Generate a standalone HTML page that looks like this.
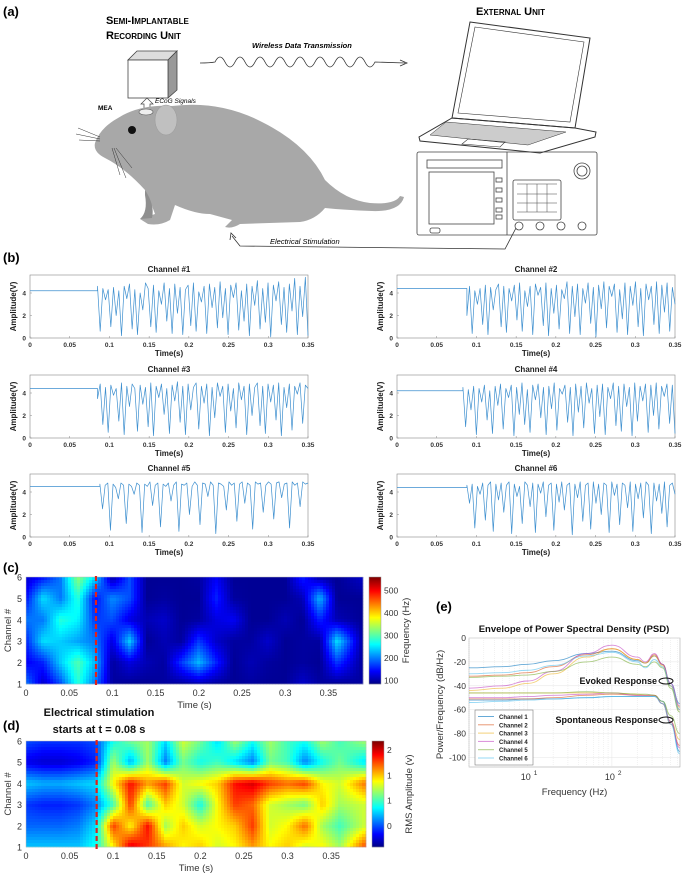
<!DOCTYPE html>
<html><head><meta charset="utf-8"><style>
body{margin:0;background:#fff}
svg{display:block;font-family:"Liberation Sans",sans-serif}
.b{font-weight:bold}
</style></head><body>
<svg id="fig" width="685" height="880" viewBox="0 0 685 880" xmlns="http://www.w3.org/2000/svg">
<g>
<text x="3" y="16" font-size="13" class="b">(a)</text>
<text x="106" y="24" font-size="11" class="b" style="font-variant:small-caps">Semi-Implantable</text>
<text x="106" y="39" font-size="11" class="b" style="font-variant:small-caps">Recording Unit</text>
<text x="476" y="15" font-size="11" class="b" style="font-variant:small-caps">External Unit</text>
<g stroke="#444" stroke-width="0.8">
<polygon points="128,60 168,60 177,51 137,51" fill="#ddd"/>
<polygon points="168,60 177,51 177,90 168,98" fill="#999"/>
<rect x="128" y="60" width="40" height="38" fill="#fff"/>
</g>
<path d="M200,63 Q210,63 215,62 q5,-10 10,0 q5,10 10,0 q5,-10 10,0 q5,10 10,0 q5,-10 10,0 q5,10 10,0 q5,-10 10,0 q5,10 10,0 q5,-10 10,0 q5,10 10,0 q5,-10 10,0 q5,10 10,0 q5,-10 10,0 q5,10 10,0 q5,-10 10,0 q5,10 10,0 L405,63" fill="none" stroke="#333" stroke-width="0.8"/>
<path d="M400,60 L407,63 L400,66" fill="none" stroke="#333" stroke-width="0.8"/>
<text x="252" y="48" font-size="7.5" font-style="italic" class="b">Wireless Data Transmission</text>
<path d="M144,111 L144,104 L141,104 L147,98 L153,104 L150,104 L150,111 Z" fill="#fff" stroke="#444" stroke-width="0.7"/>
<text x="155" y="103" font-size="6.5" font-style="italic">ECoG Signals</text>
<text x="98" y="110" font-size="6.5" class="b">MEA</text>
<g>
<path d="M95,143 Q100,128 118,118 Q140,104 172,106 Q220,100 262,122 Q308,145 325,180 Q345,200 370,203 Q395,205 400,196 L404,197 Q400,212 372,211 Q345,210 325,208 Q315,220 300,222 L240,224 Q232,229 225,227 L232,220 L210,214 Q195,214 175,205 L170,220 Q160,226 148,224 L140,219 L155,214 Q150,200 145,190 Q125,168 105,158 Q93,152 95,143 Z" fill="#a8a8a8"/>
<path d="M145,190 Q155,205 152,218 L140,219 Q148,212 145,195Z" fill="#8f8f8f"/>
<ellipse cx="166" cy="120" rx="11" ry="15" fill="#c0c0c0" stroke="#999" stroke-width="0.5"/>
<circle cx="132" cy="130" r="4" fill="#111"/>
<ellipse cx="146" cy="112" rx="7" ry="3" fill="#eee" stroke="#555" stroke-width="0.6"/>
<path d="M100,137 L78,128 M100,139 L76,134 M100,141 L79,140 M112,148 L120,175 M114,148 L126,178 M116,148 L132,168" stroke="#333" stroke-width="0.5" fill="none"/>
</g>
<g fill="none" stroke="#333" stroke-width="1">
<polygon points="470,22 590,38 575,128 452,118"/>
<polygon points="475,27 584,42 570,122 458,113" stroke-width="0.6"/>
<polygon points="452,118 575,128 596,132 595,137 540,153 420,141 419,137"/>
<polygon points="446,122 566,132 528,145 430,135" stroke-width="0.5" fill="#ccc"/>
<polygon points="468,139 505,142 500,147 462,144" stroke-width="0.6"/>
</g>
<g fill="none" stroke="#444" stroke-width="0.8">
<rect x="417" y="152" width="180" height="83" rx="2"/>
<line x1="507" y1="152" x2="507" y2="235"/>
<rect x="427" y="160" width="75" height="8"/>
<rect x="429" y="172" width="65" height="52"/>
<rect x="496" y="178" width="6" height="4"/><rect x="496" y="188" width="6" height="4"/><rect x="496" y="198" width="6" height="4"/><rect x="496" y="208" width="6" height="4"/><rect x="496" y="215" width="6" height="4"/>
<rect x="513" y="180" width="48" height="40" rx="2"/>
<path d="M517,184h40M517,194h40M517,203h40M517,212h40M527,184v28M537,184v28M547,184v28" stroke-width="0.5"/>
<circle cx="582" cy="171" r="8"/><circle cx="582" cy="171" r="5"/>
<circle cx="519" cy="226" r="4"/><circle cx="540" cy="226" r="4"/><circle cx="561" cy="226" r="4"/><circle cx="582" cy="226" r="4"/>
<rect x="430" y="228" width="10" height="5" rx="2"/>
</g>
<path d="M516,228 L505,249 L240,246 L232,236" fill="none" stroke="#333" stroke-width="0.8"/>
<path d="M230,240 L231,233 L236,238" fill="none" stroke="#333" stroke-width="0.8"/>
<text x="270" y="244" font-size="7.5" font-style="italic">Electrical Stimulation</text>
</g>
<text x="3" y="262" font-size="13" class="b">(b)</text>
<text x="3" y="572" font-size="13" class="b">(c)</text>
<text x="3" y="730" font-size="13" class="b">(d)</text>
<text x="436" y="611" font-size="13" class="b">(e)</text>
<g id="charts"></g>
</svg>
<script>
// ---------- Panel (b) data ----------
const channelNames = ["Channel #1","Channel #2","Channel #3","Channel #4","Channel #5","Channel #6"];
const baselineV = [4.2,4.4,4.4,4.2,4.5,4.4];
const onsetT = [0.085,0.088,0.085,0.083,0.088,0.088];
const timeTicks = [0,0.05,0.1,0.15,0.2,0.25,0.3,0.35];
const timeTickLabels = ["0","0.05","0.1","0.15","0.2","0.25","0.3","0.35"];
const ampTicks = [0,2,4];
const sig1 = [4.6,0.6,4.4,3.4,4.3,1.0,4.5,2.0,4.2,0.2,4.6,3.5,4.8,0.8,4.3,0.3,4.0,2.5,4.9,4.4,1.0,4.7,0.5,4.2,3.0,4.9,1.5,4.4,0.4,4.8,2.2,4.5,0.3,4.3,4.7,1.1,4.9,0.6,4.1,3.2,4.6,0.4,4.8,2.7,4.5,0.9,5.0,1.8,4.4,0.3,4.7,3.6,4.9,0.7,4.2,1.5,4.8,0.2,4.6,2.9,5.1,0.8,4.4,1.4,4.9,0.1,4.7,3.3,5.0,1.2,4.5,0.5,4.8,2.4,5.3,0.3,4.6,1.9,5.4,0.2];
const sig2 = [2.0,4.6,0.4,4.2,3.0,4.4,1.2,4.7,0.3,4.5,2.5,4.3,4.8,1.0,4.6,0.5,4.4,3.3,4.7,1.6,4.9,0.6,4.2,2.8,4.6,0.3,4.8,3.8,4.5,1.1,4.9,0.2,4.4,2.2,4.7,0.8,4.3,3.5,5.0,0.4,4.6,1.9,4.8,0.3,4.4,3.1,4.9,1.3,4.5,0.1,4.7,2.6,5.0,0.9,4.6,3.7,4.8,0.5,4.3,1.7,4.9,0.3,4.6,2.9,5.0,1.0,4.4,0.2,4.8,3.4,4.6,1.2,5.0,0.4,4.7,2.3,4.9,0.6,4.5,3.0];
const sig3 = [3.5,4.8,1.2,4.5,0.5,4.7,3.8,4.4,1.5,4.9,0.3,4.6,2.8,4.8,4.4,0.6,4.7,3.0,4.5,1.0,4.9,0.2,4.6,3.6,4.8,2.1,4.4,0.4,4.7,3.3,5.0,1.4,4.6,0.3,4.8,2.5,4.5,4.9,0.8,4.6,3.1,4.8,0.2,4.5,1.8,4.9,3.7,4.6,0.5,4.8,2.4,4.4,0.9,4.9,3.4,4.6,0.3,4.8,2.0,4.5,4.9,1.1,4.6,0.4,4.8,3.2,4.7,1.6,4.9,0.2,4.5,2.7,4.8,0.7,4.6,3.9,4.9,1.3,4.7,4.4];
const sig4 = [4.5,1.0,4.3,2.5,4.6,0.3,4.4,3.2,4.7,1.6,4.2,0.4,4.6,2.9,4.8,0.8,4.4,3.6,4.7,0.2,4.5,2.1,4.9,1.2,4.3,0.5,4.7,3.4,4.8,1.8,4.5,0.3,4.6,2.6,4.9,0.7,4.4,3.9,4.7,1.4,4.5,0.2,4.8,2.3,4.6,0.9,4.9,3.1,4.4,0.4,4.7,1.9,4.8,0.3,4.5,3.5,4.9,1.1,4.6,0.6,4.8,2.8,4.5,0.2,4.9,1.5,4.6,3.3,4.8,0.5,4.7,2.0,4.9,0.8,4.6,3.7,4.8,1.3,4.7,0.4];
const sig5 = [4.7,2.5,4.6,4.8,0.6,4.7,4.4,3.4,4.8,4.6,1.2,4.7,4.5,3.8,4.8,4.6,0.4,4.7,4.5,4.9,2.8,4.6,4.8,0.9,4.7,4.5,4.8,3.2,4.6,4.9,0.5,4.7,4.6,4.8,2.0,4.5,4.9,4.6,1.1,4.8,4.7,3.6,4.9,4.6,0.3,4.8,4.7,4.5,2.4,4.9,4.6,4.8,1.4,4.7,4.9,3.0,4.8,4.6,0.7,4.9,4.7,4.8,2.2,4.6,4.9,4.7,1.6,4.8,4.9,3.5,4.7,4.8,0.8,4.9,4.6,4.8,2.7,4.9,4.7,4.8];
const sig6 = [4.6,3.0,4.7,0.8,4.5,3.8,4.8,1.5,4.6,4.9,0.5,4.7,3.3,4.8,2.2,4.6,4.9,0.3,4.7,3.6,4.5,1.2,4.9,4.6,2.7,4.8,0.4,4.7,3.9,4.9,1.8,4.6,4.8,0.6,4.7,3.1,4.9,2.4,4.6,4.8,0.2,4.7,3.5,4.9,1.4,4.6,4.8,0.7,4.9,3.0,4.7,2.0,4.8,4.6,0.4,4.9,3.7,4.7,1.1,4.8,4.6,2.6,4.9,0.5,4.7,3.4,4.8,1.7,4.9,4.6,0.3,4.8,3.2,4.7,2.1,4.9,0.9,4.6,4.8,3.8];
const signals = [sig1,sig2,sig3,sig4,sig5,sig6];

// ---------- Panel (c)/(d) data ----------
const hmTimes = [0,0.02,0.04,0.06,0.08,0.10,0.12,0.14,0.16,0.18,0.20,0.22,0.24,0.26,0.28,0.30,0.32,0.34,0.36,0.39];
const hmChannels = [1,2,3,4,5,6];
const freqGrid = [
 [200,120,180,280,200,100,95,95,100,100,110,100,95,100,95,95,120,100,95,100],
 [140,160,240,300,230,100,130,110,100,170,230,160,95,110,100,95,100,95,170,95],
 [160,250,240,220,200,130,240,95,110,100,170,120,100,100,120,95,100,100,250,95],
 [200,200,280,260,170,180,130,110,120,95,100,130,140,95,95,110,95,160,110,95],
 [150,250,200,280,150,210,180,95,100,95,95,160,100,95,95,95,110,230,95,95],
 [120,150,200,330,250,100,180,95,95,95,100,140,95,95,95,95,160,100,95,120]];
const rmsGrid = [
 [.75,.75,.75,.75,.9,1.4,2.0,1.8,1.6,1.4,1.5,1.3,1.4,1.6,1.4,1.5,1.3,1.4,1.2,1.8],
 [.55,.55,.55,.6,.8,1.8,1.4,1.9,1.2,1.5,1.3,1.4,1.5,1.8,1.3,1.4,1.7,1.2,1.0,1.3],
 [.45,.4,.4,.45,.6,1.0,1.8,1.0,1.5,1.3,0.9,1.4,1.8,1.7,1.3,1.2,1.1,1.5,1.2,1.3],
 [.75,.7,.7,.75,.8,1.4,1.9,1.6,1.8,1.3,1.4,1.5,1.9,2.0,1.8,1.7,1.8,1.4,1.3,1.7],
 [.3,.25,.25,.3,.4,1.2,0.7,1.2,0.6,1.1,0.9,1.0,0.8,0.6,1.1,1.0,0.6,0.9,1.1,0.8],
 [.5,.45,.45,.45,.5,0.9,1.1,1.2,0.8,1.3,1.1,0.8,1.2,0.9,1.2,1.0,0.9,1.2,1.0,1.2]];
const hmTimeTicks = [0,0.05,0.1,0.15,0.2,0.25,0.3,0.35];
const freqCbTicks = [100,200,300,400,500];
const rmsCbTicks = [0.5,1,1.5,2];
const rmsCbLabels = ["0","1","1","2"];
const stimTime = 0.081;

// ---------- Panel (e) data ----------
const psdFreqs = [2,5,10,20,50,100,200,250,320,400,500,640];
const evoked = [
 [-25,-24,-22,-19,-13,-11,-19,-21,-15,-22,-38,-55],
 [-32,-31,-29,-24,-14,-9,-18,-21,-14,-22,-40,-60],
 [-44,-42,-38,-30,-16,-9,-18,-21,-15,-23,-40,-58],
 [-42,-40,-36,-28,-13,-6,-16,-20,-13,-22,-38,-57],
 [-33,-32,-31,-28,-20,-16,-22,-24,-20,-25,-42,-62],
 [-30,-29,-27,-23,-15,-12,-20,-25,-18,-24,-40,-60]];
const spont = [
 [-52,-52,-51,-51,-50,-49,-49,-49,-49,-53,-70,-95],
 [-51,-51,-51,-50,-48,-47,-48,-48,-48,-55,-72,-90],
 [-46,-46,-46,-46,-46,-46,-47,-48,-48,-55,-70,-85],
 [-50,-50,-49,-48,-47,-46,-48,-48,-48,-55,-70,-92],
 [-46,-46,-46,-46,-45,-46,-47,-47,-48,-53,-65,-80],
 [-54,-53,-52,-51,-50,-49,-49,-49,-49,-55,-72,-97]];
const psdLegend = ["Channel 1","Channel 2","Channel 3","Channel 4","Channel 5","Channel 6"];
const psdYTicks = [0,-20,-40,-60,-80,-100];
const psdColors = ["#0072BD","#D95319","#EDB120","#C03FC0","#77AC30","#4DBEEE"];

const NS="http://www.w3.org/2000/svg";
const root=document.getElementById('charts');
function el(tag,attrs,parent){const e=document.createElementNS(NS,tag);for(const k in attrs)e.setAttribute(k,attrs[k]);(parent||root).appendChild(e);return e;}
function txt(s,attrs,parent){const e=el('text',attrs,parent);e.textContent=s;return e;}

// ----- Panel (b) -----
const colsX=[[30,308],[397,675]];
const rowsY=[[275,338],[375,438],[474,537]];
for(let i=0;i<6;i++){
  const col=i%2,row=Math.floor(i/2);
  const [x0,x1]=colsX[col],[y0,y1]=rowsY[row];
  const g=el('g',{});
  
  
  const sx=t=>x0+(t/0.35)*(x1-x0);
  const sy=v=>y1-(v/5.6)*(y1-y0);
  const frame=el('rect',{x:x0,y:y0,width:x1-x0,height:y1-y0,fill:'#fff',stroke:'#888','stroke-width':0.6},g);
  
  
  const title=txt(channelNames[i],{x:(x0+x1)/2,y:y0-3,'font-size':8,'font-weight':'bold','text-anchor':'middle',fill:'#222'},g);
  
  
  timeTicks.forEach((t,k)=>{
    el('line',{x1:sx(t),x2:sx(t),y1:y1,y2:y1-2,stroke:'#888','stroke-width':0.5},g);
    const tl=txt(timeTickLabels[k],{x:sx(t),y:y1+9,'font-size':6.5,'font-weight':'bold','text-anchor':'middle',fill:'#333'},g);
    
    
  });
  ampTicks.forEach(v=>{
    el('line',{x1:x0,x2:x0+2,y1:sy(v),y2:sy(v),stroke:'#888','stroke-width':0.5},g);
    const tl=txt(String(v),{x:x0-4,y:sy(v)+2.5,'font-size':6.5,'font-weight':'bold','text-anchor':'end',fill:'#333'},g);
    
    
  });
  const xl=txt('Time(s)',{x:(x0+x1)/2,y:y1+18,'font-size':8,'font-weight':'bold','text-anchor':'middle',fill:'#222'},g);
  
  
  const yl=txt('Amplitude(V)',{x:0,y:0,'font-size':8,'font-weight':'bold','text-anchor':'middle',fill:'#222',transform:`translate(${x0-14},${(y0+y1)/2}) rotate(-90)`},g);
  
  
  const s=signals[i];const on=onsetT[i];
  let d=`M${sx(0)},${sy(baselineV[i])} L${sx(on)},${sy(baselineV[i])}`;
  const step=(0.35-on)/(s.length-1);
  s.forEach((v,k)=>{d+=` L${sx(on+k*step).toFixed(2)},${sy(v).toFixed(2)}`;});
  const p=el('path',{d:d,fill:'none',stroke:'#3d8fcf','stroke-width':0.7,'stroke-linejoin':'round'},g);
  
  
}

// ----- Heatmaps -----
function jet(v){v=Math.max(0,Math.min(1,v));const c=x=>Math.round(255*Math.max(0,Math.min(1,1.5-Math.abs(x))));return `rgb(${c(4*v-3)},${c(4*v-2)},${c(4*v-1)})`;}
function interp(grid,t,ch){
  t=Math.max(0,Math.min(0.39,t));ch=Math.max(1,Math.min(6,ch));
  let j=0;while(j<hmTimes.length-2&&t>hmTimes[j+1])j++;
  const ft=Math.max(0,Math.min(1,(t-hmTimes[j])/(hmTimes[j+1]-hmTimes[j])));
  let r=Math.max(0,Math.min(Math.floor(ch-1),4));const fr=Math.max(0,Math.min(1,ch-1-r));
  const a=grid[r][j]*(1-ft)+grid[r][j+1]*ft, b=grid[r+1][j]*(1-ft)+grid[r+1][j+1]*ft;
  return a*(1-fr)+b*fr;
}
function heatmap(name,grid,x0,x1,y0,y1,vmin,vmax,cbx,cbTicks,cbLabels,cbTitle){
  const g=el('g',{});
  
  
  const tmax=0.39;
  const sx=t=>x0+t/tmax*(x1-x0), sy=c=>y1-(c-1)/5*(y1-y0);
  const tw=3,th=3;
  for(let px=x0;px<x1;px+=tw){for(let py=y0;py<y1;py+=th){
    const t=(px+tw/2-x0)/(x1-x0)*tmax, ch=1+(y1-(py+th/2))/(y1-y0)*5;
    const r=el('rect',{x:px,y:py,width:Math.min(tw,x1-px)+0.3,height:Math.min(th,y1-py)+0.3,fill:jet((interp(grid,t,ch)-vmin)/(vmax-vmin))},g);
    
    
  }}
  el('rect',{x:x0,y:y0,width:x1-x0,height:y1-y0,fill:'none',stroke:'#bbb','stroke-width':0.5},g);
  hmTimeTicks.forEach(t=>{
    const l=txt(String(t),{x:sx(t),y:y1+12,'font-size':9,'text-anchor':'middle',fill:'#333'},g);
    
    
  });
  hmChannels.forEach(c=>{
    const l=txt(String(c),{x:x0-4,y:sy(c)+3.5,'font-size':9,'text-anchor':'end',fill:'#333'},g);
    
    
  });
  const xt=txt('Time (s)',{x:(x0+x1)/2,y:y1+24,'font-size':9.5,'text-anchor':'middle',fill:'#333'},g);
  
  
  const yt=txt('Channel #',{x:0,y:0,'font-size':9.5,'text-anchor':'middle',fill:'#333',transform:`translate(${x0-15},${(y0+y1)/2}) rotate(-90)`},g);
  
  
  const cb=el('g',{},g);
  
  
  for(let py=y0;py<y1;py+=1){el('rect',{x:cbx,y:py,width:12,height:1.2,fill:jet((y1-py)/(y1-y0))},cb);}
  el('rect',{x:cbx,y:y0,width:12,height:y1-y0,fill:'none',stroke:'#999','stroke-width':0.5},cb);
  cbTicks.forEach((v,k)=>{
    const yy=y1-(v-vmin)/(vmax-vmin)*(y1-y0);
    const l=txt(cbLabels[k],{x:cbx+15,y:yy+3,'font-size':8.5,fill:'#333'},cb);
    
    
  });
  const ct=txt(cbTitle,{x:0,y:0,'font-size':9.5,'text-anchor':'middle',fill:'#333',transform:`translate(${cbx+40},${(y0+y1)/2}) rotate(-90)`},cb);
  
  
  const sl=el('line',{x1:sx(stimTime),x2:sx(stimTime),y1:y0-1,y2:y1+4,stroke:'#e0201a','stroke-width':2.2,'stroke-dasharray':'5,3'},g);
  
  
}
heatmap('frequency-heatmap',freqGrid,26,363,577,684,85,560,369,freqCbTicks,freqCbTicks.map(String),'Frequency (Hz)');
heatmap('rms-heatmap',rmsGrid,26,366,741,847,0.08,2.18,372,rmsCbTicks,rmsCbLabels,'RMS Amplitude (v)');
const a1=txt('Electrical stimulation',{x:99,y:716,'font-size':11,'font-weight':'bold','text-anchor':'middle',fill:'#111'});


const a2=txt('starts at t = 0.08 s',{x:99,y:733,'font-size':11,'font-weight':'bold','text-anchor':'middle',fill:'#111'});



// ----- Panel (e) -----
(function(){
  const x0=469,x1=680,y0=638,y1=767;
  const lx0=Math.log10(2),lx1=Math.log10(645);
  const sx=f=>x0+(Math.log10(f)-lx0)/(lx1-lx0)*(x1-x0);
  const sy=v=>y0+(-v)/108*(y1-y0);
  const g=el('g',{});
  
  
  el('rect',{x:x0,y:y0,width:x1-x0,height:y1-y0,fill:'#fff',stroke:'#999','stroke-width':0.5},g);
  [2,3,4,5,6,7,8,9,10,20,30,40,50,60,70,80,90,100,200,300,400,500,600].forEach(f=>{
    el('line',{x1:sx(f),x2:sx(f),y1:y0,y2:y1,stroke:'#e4e4e4','stroke-width':0.5,'stroke-dasharray':f===10||f===100?'':'1,1'},g);
  });
  psdYTicks.forEach(v=>{
    el('line',{x1:x0,x2:x1,y1:sy(v),y2:sy(v),stroke:'#e4e4e4','stroke-width':0.5},g);
    const l=txt(String(v),{x:x0-3,y:sy(v)+3,'font-size':8.5,'text-anchor':'end',fill:'#333'},g);
    
    
  });
  [10,100].forEach((f,k)=>{
    const l=txt('10',{x:sx(f)-2,y:y1+13,'font-size':9,'text-anchor':'middle',fill:'#333'},g);
    
    
    const e=txt(String(k+1),{x:sx(f)+6,y:y1+8,'font-size':6.5,fill:'#333'},g);
    
    
  });
  const t=txt('Envelope of Power Spectral Density (PSD)',{x:574,y:632,'font-size':9.5,'font-weight':'bold','text-anchor':'middle',fill:'#111'},g);
  
  
  const xt=txt('Frequency (Hz)',{x:(x0+x1)/2,y:795,'font-size':9.5,'text-anchor':'middle',fill:'#333'},g);
  
  
  const yt=txt('Power/Frequency (dB/Hz)',{x:0,y:0,'font-size':9.5,'text-anchor':'middle',fill:'#333',transform:`translate(443,${(y0+y1)/2+2}) rotate(-90)`},g);
  
  
  function curve(vals,col,name){
    const pts=psdFreqs.map((f,k)=>[sx(f),sy(vals[k])]);
    let d=`M${pts[0][0]},${pts[0][1]}`;
    for(let k=1;k<pts.length;k++){const p0=pts[k-1],p1=pts[k];const mx=(p0[0]+p1[0])/2;d+=` C${mx},${p0[1]} ${mx},${p1[1]} ${p1[0]},${p1[1]}`;}
    const p=el('path',{d:d,fill:'none',stroke:col,'stroke-width':0.9,'stroke-opacity':0.6},g);
    
    
  }
  for(let i=0;i<6;i++){curve(evoked[i],psdColors[i],'evoked-line-ch'+(i+1));curve(spont[i],psdColors[i],'spontaneous-line-ch'+(i+1));}
  const lg=el('g',{},g);
  
  
  el('rect',{x:475,y:710,width:58,height:55,fill:'#fff',stroke:'#666','stroke-width':0.5},lg);
  psdLegend.forEach((s,i)=>{
    const yy=716.5+i*8.3;
    const le=el('g',{},lg);
    
    
    el('line',{x1:478,x2:494,y1:yy,y2:yy,stroke:psdColors[i],'stroke-width':1,'stroke-opacity':0.6},le);
    txt(s,{x:499,y:yy+2.5,'font-size':6,'font-weight':'bold',fill:'#222'},le);
  });
  const e1=txt('Evoked Response',{x:657,y:684,'font-size':9,'font-weight':'bold','text-anchor':'end',fill:'#111'},g);
  
  
  el('ellipse',{cx:666,cy:681,rx:7,ry:3,fill:'none',stroke:'#111','stroke-width':1},g);
  const e2=txt('Spontaneous Response',{x:658,y:723,'font-size':9,'font-weight':'bold','text-anchor':'end',fill:'#111'},g);
  
  
  el('ellipse',{cx:666,cy:720,rx:7,ry:3,fill:'none',stroke:'#111','stroke-width':1},g);
})();
</script>
</body></html>
